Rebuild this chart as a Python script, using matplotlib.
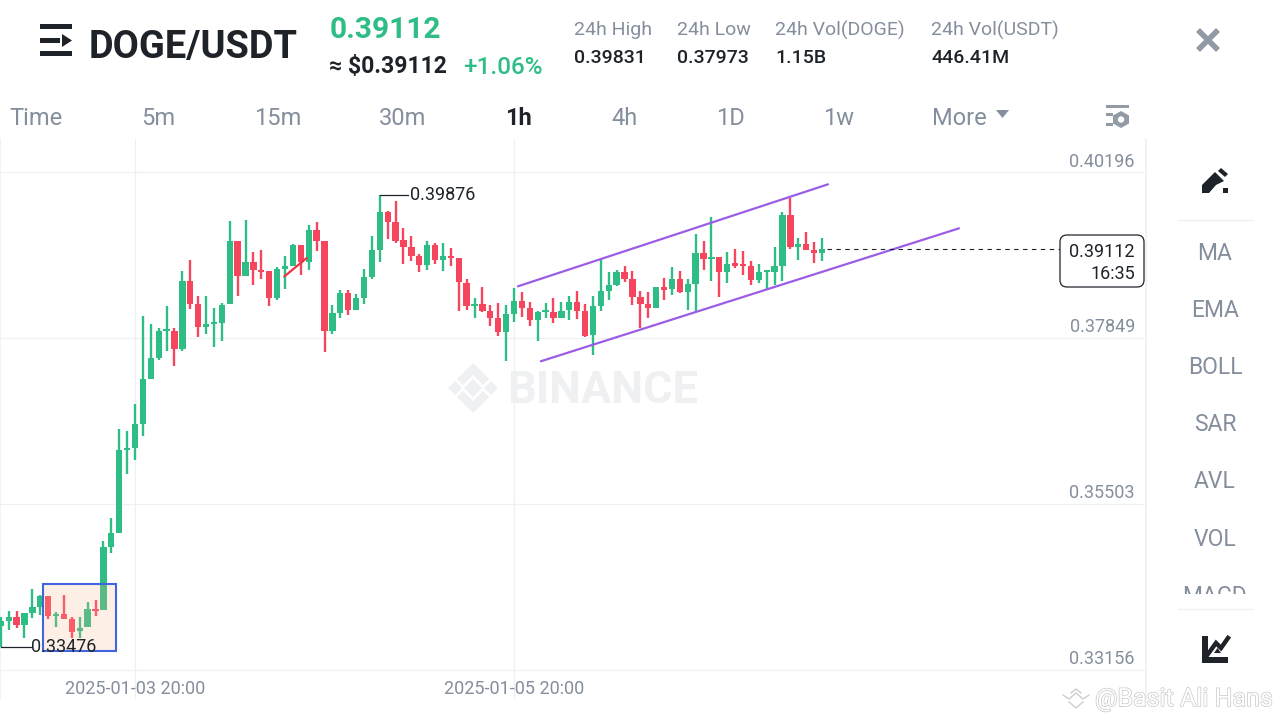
import numpy as np
import matplotlib
matplotlib.use("Agg")
import matplotlib.pyplot as plt
from matplotlib.patches import Polygon, Rectangle, FancyBboxPatch, Circle
from matplotlib.transforms import ScaledTranslation, Bbox
import matplotlib.patheffects as pe

plt.rcParams['font.family'] = ['Roboto', 'DejaVu Sans']

GREEN = '#2EBD85'; RED = '#F6465D'; DARK = '#1E2329'; GREY = '#848E9C'; GRID = '#EEF0F3'; PURPLE = '#9B5DE5'

# --- data -----------------------------------------------------------------
first_index = -17
opens = [.33769,.33841,.33897,.33784,.33954,.34039,.34194,.33911,.33940,.33869,.33699,.33755,.34010,.33996,.34888,.35086,.36261,
         .36289,.36629,.37266,.37563,.37945,.37945,.37691,.38653,.38328,.38002,.38044,.38059,.38328,.39219,.38724,.38922,.38809,.38795,.38412,.38823,
         .38865,.39163,.38922,.39375,.39219,.37945,.38200,.38483,.38243,.38412,.38710,.39092,.39630,.39488,.39234,.39134,.39007,.38880,.39163,.38950,
         .39007,.38979,.38625,.38299,.38328,.38228,.38129,.37931,.38186,.38370,.38271,.38101,.38214,.38214,.38129,.38243,.38356,.38228,.37889,.38299,
         .38511,.38596,.38781,.38681,.38426,.38328,.38271,.38568,.38540,.38681,.38497,.38610,.39050,.38965,.38993,.38781,.38908,.38894,.38865,.38667,
         .38781,.38781,.38865,.39587,.39134,.39177,.39092,.39050]
highs = [.33897,.33982,.33982,.33954,.34293,.34208,.34194,.33968,.34208,.33897,.33897,.34109,.34138,.34973,.35298,.36558,.36530,
         .36912,.38157,.38044,.37988,.38299,.37988,.38795,.38950,.38441,.38441,.38271,.38342,.39502,.39219,.39517,.39064,.39092,.38795,.38851,.39007,
         .39177,.39163,.39446,.39488,.39219,.38313,.38526,.38526,.38469,.38823,.39290,.39876,.39644,.39785,.39403,.39290,.39035,.39219,.39191,.39191,
         .39120,.38979,.38681,.38412,.38568,.38313,.38342,.38313,.38554,.38497,.38356,.38228,.38342,.38412,.38356,.38441,.38511,.38328,.38441,.38965,
         .38781,.38809,.38865,.38795,.38511,.38497,.38568,.38696,.38851,.38795,.38681,.39318,.39219,.39559,.38993,.39064,.39106,.39078,.38936,.38894,
         .38809,.39134,.39630,.39831,.39262,.39347,.39205,.39262]
lows = [.33476,.33713,.33741,.33600,.33883,.33926,.33869,.33755,.33869,.33600,.33600,.33755,.33911,.33996,.34803,.35086,.35921,
        .36120,.36459,.37266,.37535,.37662,.37450,.37662,.38257,.37860,.37903,.37719,.37804,.38328,.38441,.38724,.38596,.38681,.38299,.38384,.38540,
        .38865,.38738,.38809,.39078,.37648,.37903,.38129,.38172,.38243,.38328,.38681,.38922,.39248,.39191,.38894,.38936,.38781,.38809,.38894,.38795,
        .38865,.38228,.38243,.38129,.38214,.38016,.37874,.37521,.38073,.38143,.38016,.37804,.38129,.38059,.38129,.38101,.38115,.37860,.37606,.38228,
        .38384,.38582,.38639,.38313,.37988,.38129,.38271,.38384,.38455,.38483,.38243,.38214,.38809,.38653,.38426,.38625,.38837,.38738,.38596,.38625,
        .38540,.38596,.38653,.39106,.38950,.39092,.38908,.38936]
closes = [.33841,.33897,.33784,.33954,.34039,.34194,.33911,.33940,.33869,.33685,.33741,.34010,.33982,.34888,.35086,.36261,.36289,
          .36629,.37266,.37563,.37945,.37974,.37691,.38653,.38328,.38002,.38044,.38073,.38313,.39219,.38724,.38922,.38809,.38781,.38412,.38823,.38865,
          .39163,.38922,.39375,.39219,.37945,.38200,.38483,.38243,.38412,.38710,.39092,.39630,.39488,.39219,.39134,.39007,.38880,.39163,.38950,.39007,
          .38979,.38639,.38299,.38328,.38228,.38129,.37931,.38186,.38370,.38271,.38101,.38214,.38243,.38129,.38228,.38356,.38228,.37874,.38299,.38511,
          .38596,.38781,.38681,.38426,.38328,.38271,.38568,.38526,.38681,.38497,.38610,.39050,.38965,.38993,.38781,.38894,.38865,.38865,.38667,.38781,
          .38809,.38865,.39587,.39134,.39177,.39092,.39050,.39112]

price_ticks = [.40196, .37849, .35503, .33156]
price_labels = ['0.40196', '0.37849', '0.35503', '0.33156']
date_ticks = [0, 48]
date_labels = ['2025-01-03 20:00', '2025-01-05 20:00']
last_price = 0.39112
peak_index, peak_price = 31, 0.39876
trough_index, trough_price = -17, 0.33476
channel_upper = ([48.5, 87.77], [.38582, .40026])
channel_lower = ([51.4, 104.36], [.37521, .39403])
red_segment = ([18.9, 21.75], [.38720, .38983])
box_x = [-11.6, -2.45]
box_y = [.33416, .34364]

tabs = ['Time', '5m', '15m', '30m', '1h', '4h', '1D', '1w', 'More']
tab_x = [9.5, 141.5, 254, 379, 505.5, 611, 716, 823, 932]
side_labels = ['MA', 'EMA', 'BOLL', 'SAR', 'AVL', 'VOL', 'MACD']
side_y = [253.5, 310.5, 367.5, 424.5, 481.5, 539.5, 596.5]
stat_heads = ['24h High', '24h Low', '24h Vol(DOGE)', '24h Vol(USDT)']
stat_vals = ['0.39831', '0.37973', '1.15B', '446.41M']
stat_x = [574, 677, 775, 931]

# --- figure ---------------------------------------------------------------
fig = plt.figure(figsize=(12.8, 7.2), dpi=100, facecolor='white')
ax = fig.add_axes([0, 20.7/720, 1146/1280, 560/720], facecolor='white')
ax.set_xlim(-135/7.896, (1146-135)/7.896)
ax.set_ylim(0.32736, 0.40663)

x = np.arange(first_index, first_index + len(opens))
o, h, l, c = map(np.array, (opens, highs, lows, closes))
cols = [GREEN if b >= a else RED for a, b in zip(o, c)]
ax.vlines(x, l, h, colors=cols, lw=1.7, zorder=3)
ax.bar(x, np.abs(c - o), bottom=np.minimum(o, c), width=0.8, color=cols, linewidth=0, zorder=3)

ax.set_yticks(price_ticks, price_labels)
ax.set_xticks(date_ticks, date_labels)
ax.grid(True, color=GRID, lw=0.9, zorder=0)
ax.set_axisbelow(True)
ax.tick_params(axis='y', left=False, labelleft=False, right=False, labelright=True, length=0, pad=-8,
               labelsize=13, labelcolor=GREY)
ax.tick_params(axis='x', bottom=False, length=0, pad=-14, labelsize=13, labelcolor=GREY)
for t in ax.get_yticklabels():
    t.set_ha('right'); t.set_va('bottom')
    t.set_transform(t.get_transform() + ScaledTranslation(0, 1.2/72, fig.dpi_scale_trans))
for s in ('top', 'bottom'):
    ax.spines[s].set_visible(False)
for s in ('left', 'right'):
    ax.spines[s].set_color(GRID); ax.spines[s].set_linewidth(1.2)

# drawings
ax.plot(*channel_upper, color=PURPLE, lw=1.6, zorder=4, solid_capstyle='round')
ax.plot(*channel_lower, color=PURPLE, lw=1.6, zorder=4, solid_capstyle='round')
ax.plot(*red_segment, color='#EE3344', lw=1.6, zorder=4, solid_capstyle='round')
ax.add_patch(Rectangle((box_x[0], box_y[0]), box_x[1]-box_x[0], box_y[1]-box_y[0],
                       facecolor=(0.97, 0.72, 0.55, 0.22), edgecolor='none', zorder=5))
ax.add_patch(Rectangle((box_x[0], box_y[0]), box_x[1]-box_x[0], box_y[1]-box_y[0],
                       fill=False, edgecolor='#3F66E0', lw=1.5, zorder=5))
ax.hlines(last_price, 87.6, (1060-135)/7.896, colors=DARK, lw=0.8, linestyles=(0, (4, 4)), zorder=4)
ax.plot([peak_index, peak_index + 3.6], [peak_price]*2, color=DARK, lw=0.9, zorder=4)
ax.annotate('0.39876', (peak_index + 3.8, peak_price), ha='left', va='center', fontsize=13, color=DARK, zorder=6)
ax.plot([trough_index, trough_index + 3.8], [trough_price]*2, color=DARK, lw=0.9, zorder=4)
ax.annotate('0.33476', (trough_index + 3.85, trough_price), ha='left', va='center', fontsize=13, color=DARK, zorder=6)

# --- UI overlay in pixels -------------------------------------------------
ui = fig.add_axes([0, 0, 1, 1]); ui.set_xlim(0, 1280); ui.set_ylim(720, 0); ui.axis('off'); ui.patch.set_alpha(0)
def T(x, y, s, size, color=DARK, weight='normal', ha='left', **kw):
    return ui.text(x, y, s, fontsize=size, color=color, fontweight=weight, ha=ha, va='center', **kw)
def bar(x0, y0, x1, y1, color=DARK, z=2):
    ui.add_patch(Rectangle((x0, y0), x1-x0, y1-y0, facecolor=color, edgecolor='none', zorder=z))

# watermark (very light)
WM = '#EEF0F2'
for poly in ([(473,379),(482,388),(473,397),(464,388)],
             ([448,388],[455,381],[462,388],[455,395]),
             ([484,388],[491,381],[498,388],[491,395]),
             ([473,363],[489,379],[483,385],[473,375],[463,385],[457,379]),
             ([473,413],[489,397],[483,391],[473,401],[463,391],[457,397])):
    ui.add_patch(Polygon(poly, closed=True, facecolor=WM, edgecolor='none', zorder=1))
T(507, 391, 'BINANCE', 32.5, WM, 'bold', zorder=1)

# header
bar(40, 24, 72, 29); bar(40, 38, 60, 43); bar(40, 51, 72, 56)
ui.add_patch(Polygon([(62, 34), (72, 40.5), (62, 47)], facecolor=DARK, edgecolor='none'))
T(89, 48, 'DOGE/USDT', 27.4, DARK, 'bold')
T(330, 30, '0.39112', 21.5, GREEN, 'bold')
T(329, 67, '≈ $0.39112', 16.6, DARK, 'bold')
T(463, 67, '+1.06%', 17.5, GREEN, 'medium')
for xp, a, b in zip(stat_x, stat_heads, stat_vals):
    T(xp, 30, a, 14, GREY)
    T(xp, 58, b, 14, DARK, 'medium')
ui.plot([1198, 1218], [30, 50], color='#929AA5', lw=4, solid_capstyle='butt')
ui.plot([1218, 1198], [30, 50], color='#929AA5', lw=4, solid_capstyle='butt')

# tabs
for xp, s in zip(tab_x, tabs):
    if s == '1h':
        T(xp, 118.5, s, 17, DARK, 'bold')
    else:
        T(xp, 118.5, s, 17, GREY)
ui.add_patch(Polygon([(996, 110), (1009, 110), (1002.5, 118)], facecolor=GREY, edgecolor='none'))
bar(1106, 105, 1129, 108, '#929AA5'); bar(1106, 113, 1113, 116, '#929AA5'); bar(1106, 123, 1113, 126, '#929AA5')
ui.add_patch(Polygon([(1121,111),(1129,115.5),(1129,123.5),(1121,128),(1113,123.5),(1113,115.5)], facecolor='#929AA5', edgecolor='none'))
ui.add_patch(Circle((1121, 119.5), 3.2, facecolor='white', edgecolor='none', zorder=3))

# right bar
ui.add_patch(Polygon([(1202,193),(1202,185),(1215,172),(1224,181),(1216,185),(1209,193)], facecolor=DARK, edgecolor='none'))
ui.add_patch(Polygon([(1218,171),(1221,168),(1228,174),(1225,177)], facecolor=DARK, edgecolor='none'))
bar(1223, 188, 1228, 193)
ui.plot([1178, 1252], [220, 220], color=GRID, lw=1)
ui.plot([1178, 1252], [609, 609], color=GRID, lw=1)
for s, yp in zip(side_labels, side_y):
    t = T(1215, yp, s, 16.5, GREY, ha='center')
    if s == 'MACD':
        t.set_clip_on(True)
        t.set_clip_box(Bbox([[1150, 720-594], [1280, 720-570]]))
ui.add_patch(Polygon([(1202,636),(1208,636),(1208,657),(1228,657),(1228,663),(1202,663)], facecolor=DARK, edgecolor='none'))
ui.plot([1208, 1216, 1221, 1228], [654, 643, 648, 638], color=DARK, lw=3.2, solid_joinstyle='miter')
ui.add_patch(Polygon([(1214,653),(1221,653),(1217.5,648)], facecolor=DARK, edgecolor='none'))

# last price box
ui.add_patch(FancyBboxPatch((1065, 240), 74, 42, boxstyle='round,pad=5,rounding_size=7',
                            facecolor='white', edgecolor=DARK, lw=0.9, zorder=6))
T(1135, 252, '0.39112', 13, DARK, ha='right', zorder=7)
T(1135, 274, '16:35', 13, DARK, ha='right', zorder=7)

# footer stamp
stamp = T(1095, 699, '@Basit Ali Hans', 18, 'white', zorder=8)
stamp.set_path_effects([pe.withStroke(linewidth=1.0, foreground='#C8C8C8')])
for pts in ([(1063,695),(1069,699),(1076,693),(1083,699),(1089,695)],
            [(1069,702),(1076,708),(1083,702)],
            [(1071,693),(1076,689),(1081,693)]):
    ui.plot(*zip(*pts), color='#C9C9C9', lw=0.9, zorder=8)

fig.savefig('out.png', dpi=100, facecolor='white')
